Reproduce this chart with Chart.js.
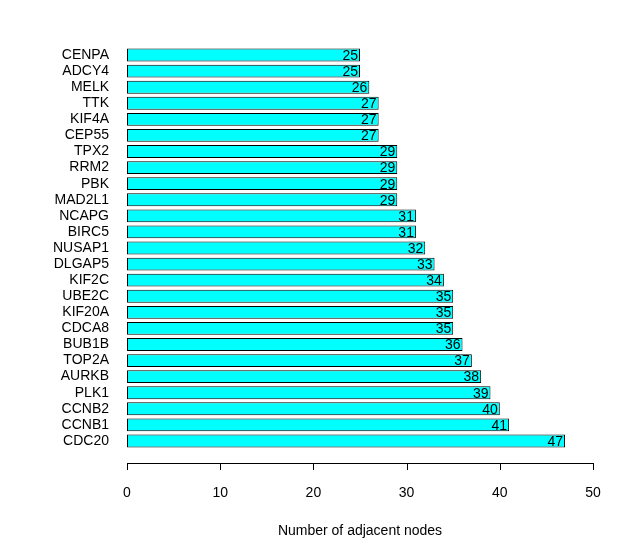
<!DOCTYPE html>
<html>
<head>
<meta charset="utf-8">
<script src="https://cdn.jsdelivr.net/npm/chart.js@4"></script>
<style>
  html, body { margin: 0; padding: 0; background: #fff; }
  #wrap { width: 643px; height: 554px; }
</style>
</head>
<body>
<div id="wrap"><canvas id="c"></canvas></div>
<script>
const genes = ["CENPA", "ADCY4", "MELK", "TTK", "KIF4A", "CEP55", "TPX2", "RRM2", "PBK", "MAD2L1",
  "NCAPG", "BIRC5", "NUSAP1", "DLGAP5", "KIF2C", "UBE2C", "KIF20A", "CDCA8", "BUB1B", "TOP2A",
  "AURKB", "PLK1", "CCNB2", "CCNB1", "CDC20"];
const degrees = [25, 25, 26, 27, 27, 27, 29, 29, 29, 29, 31, 31, 32, 33, 34, 35, 35, 35, 36, 37, 38, 39, 40, 41, 47];
const xTicks = [0, 10, 20, 30, 40, 50];
const xTitle = "Number of adjacent nodes";

const FONT = "'Liberation Sans', Arial, sans-serif";

// value labels inside bar ends + R-style detached x axis
const extras = {
  id: "extras",
  afterDatasetsDraw(chart) {
    const ctx = chart.ctx;
    const meta = chart.getDatasetMeta(0);
    ctx.save();
    ctx.font = "14px " + FONT;
    ctx.fillStyle = "#000";
    ctx.textAlign = "right";
    ctx.textBaseline = "middle";
    meta.data.forEach((bar, i) => {
      ctx.fillText(String(degrees[i]), bar.x - 2, bar.y + 1);
    });

    const xs = chart.scales.x;
    const yAxis = 463;
    ctx.strokeStyle = "#000";
    ctx.lineWidth = 1;
    ctx.beginPath();
    ctx.moveTo(xs.getPixelForValue(xTicks[0]), yAxis + 0.5);
    ctx.lineTo(xs.getPixelForValue(xTicks[xTicks.length - 1]), yAxis + 0.5);
    xTicks.forEach(t => {
      const px = Math.round(xs.getPixelForValue(t)) + 0.5;
      ctx.moveTo(px, yAxis);
      ctx.lineTo(px, yAxis + 7);
    });
    ctx.stroke();
    ctx.textAlign = "center";
    ctx.textBaseline = "alphabetic";
    xTicks.forEach(t => ctx.fillText(String(t), xs.getPixelForValue(t), 497));
    ctx.fillText(xTitle, (xs.left + xs.right) / 2, 535);
    ctx.restore();
  }
};

new Chart(document.getElementById("c"), {
  type: "bar",
  data: {
    labels: genes,
    datasets: [{
      data: degrees,
      backgroundColor: "#00FFFF",
      borderColor: "#000",
      borderWidth: 1,
      borderSkipped: false,
      barPercentage: 0.8,
      categoryPercentage: 1
    }]
  },
  options: {
    indexAxis: "y",
    responsive: true,
    maintainAspectRatio: false,
    animation: false,
    layout: { padding: { left: 0, right: 50, top: 47, bottom: 105 } },
    plugins: { legend: { display: false }, tooltip: { enabled: false } },
    scales: {
      x: { display: false, min: 0, max: 50 },
      y: {
        grid: { display: false },
        border: { display: false },
        afterFit: s => { s.width = 127; },
        ticks: { color: "#000", padding: 10, font: { family: FONT, size: 14 }, autoSkip: false }
      }
    }
  },
  plugins: [extras]
});
</script>
</body>
</html>
